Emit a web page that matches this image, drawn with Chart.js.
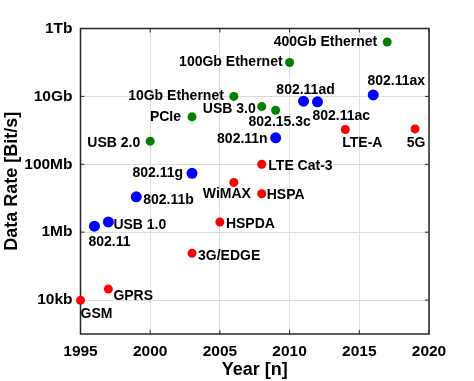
<!DOCTYPE html>
<html>
<head>
<meta charset="utf-8">
<script src="https://cdn.jsdelivr.net/npm/chart.js@4.4.1/dist/chart.umd.min.js"></script>
<style>
  html, body { margin: 0; padding: 0; background: #ffffff; }
  #wrap { width: 474px; height: 381px; }
</style>
</head>
<body>
<div id="wrap"><canvas id="c" width="474" height="381"></canvas></div>
<script>
// ---- data ----
const wiredYears  = [2000, 2003, 2006, 2008, 2009, 2010, 2017];
const wiredRates  = [4.8e8, 2.5e9, 1e10, 5e9, 3.9e9, 1e11, 4e11];
const wiredNames  = ['USB 2.0', 'PCIe', '10Gb Ethernet', 'USB 3.0', '802.15.3c', '100Gb Ethernet', '400Gb Ethernet'];

const wlanYears   = [1996, 1997, 1999, 2003, 2009, 2011, 2012, 2016];
const wlanRates   = [1.5e6, 2e6, 1.1e7, 5.4e7, 6e8, 7.2e9, 6.9e9, 1.1e10];
const wlanNames   = ['802.11', 'USB 1.0', '802.11b', '802.11g', '802.11n', '802.11ad', '802.11ac', '802.11ax'];

const cellYears   = [1995, 1997, 2003, 2005, 2006, 2008, 2008, 2014, 2019];
const cellRates   = [9.8e3, 2.1e4, 2.4e5, 2e6, 2.9e7, 1.35e7, 1e8, 1.06e9, 1.1e9];
const cellNames   = ['GSM', 'GPRS', '3G/EDGE', 'HSPDA', 'WiMAX', 'HSPA', 'LTE Cat-3', 'LTE-A', '5G'];

const yTickValues = [1e4, 1e6, 1e8, 1e10, 1e12];
const yTickLabels = ['10kb', '1Mb', '100Mb', '10Gb', '1Tb'];
const xTickValues = [1995, 2000, 2005, 2010, 2015, 2020];

// ---- label placement (style, not data): [align, dx, dy] ----
const wiredLabelPos = [['right',-10,2],['right',-11,0],['right',-10,0],['right',-6,3],['center',4,12],['right',-7,0],['right',-10,0]];
const wlanLabelPos  = [['center',15,16],['left',5,3],['left',7,3],['right',-9,0],['right',-8,1],['center',2,-11],['left',-5,14],['center',23,-14]];
const cellLabelPos  = [['left',0,14],['left',5,7],['left',6,3],['left',6,2],['center',-7,12],['left',5,1],['left',6.6,2],['center',17,14],['center',1,14]];

const FONT = "'Liberation Sans', Arial, Helvetica, sans-serif";

function pts(xs, ys) { return xs.map((x, i) => ({ x: x, y: ys[i] })); }

const labelPlugin = {
  id: 'pointLabels',
  afterDatasetsDraw(chart) {
    const ctx = chart.ctx;
    ctx.save();
    ctx.font = 'bold 14px ' + FONT;
    ctx.fillStyle = '#000000';
    ctx.textBaseline = 'middle';
    chart.data.datasets.forEach((ds, di) => {
      const meta = chart.getDatasetMeta(di);
      meta.data.forEach((el, i) => {
        const p = ds.labelPos[i];
        ctx.textAlign = p[0];
        ctx.fillText(ds.names[i], el.x + p[1], el.y + p[2]);
      });
    });
    ctx.restore();
  }
};

const boxPlugin = {
  id: 'box',
  beforeDatasetsDraw(chart) {
    const ctx = chart.ctx;
    const a = chart.chartArea;
    const xs = chart.scales.x, ys = chart.scales.y;
    ctx.save();
    ctx.strokeStyle = '#262626';
    ctx.lineWidth = 1.5;
    ctx.strokeRect(a.left, a.top, a.right - a.left, a.bottom - a.top);
    ctx.lineWidth = 1;
    ctx.beginPath();
    xTickValues.forEach(v => {
      const px = xs.getPixelForValue(v);
      ctx.moveTo(px, a.bottom); ctx.lineTo(px, a.bottom - 4);
      ctx.moveTo(px, a.top); ctx.lineTo(px, a.top + 4);
    });
    yTickValues.forEach(v => {
      const py = ys.getPixelForValue(v);
      ctx.moveTo(a.left, py); ctx.lineTo(a.left + 4, py);
      ctx.moveTo(a.right, py); ctx.lineTo(a.right - 4, py);
    });
    ctx.stroke();
    ctx.restore();
  }
};

new Chart(document.getElementById('c'), {
  type: 'scatter',
  data: {
    datasets: [
      { data: pts(wiredYears, wiredRates), names: wiredNames, labelPos: wiredLabelPos,
        backgroundColor: '#008000', borderColor: '#008000', pointRadius: 4.5, borderWidth: 0, clip: false },
      { data: pts(wlanYears, wlanRates), names: wlanNames, labelPos: wlanLabelPos,
        backgroundColor: '#0000ff', borderColor: '#0000ff', pointRadius: 5.5, borderWidth: 0, clip: false },
      { data: pts(cellYears, cellRates), names: cellNames, labelPos: cellLabelPos,
        backgroundColor: '#ff0000', borderColor: '#ff0000', pointRadius: 4.5, borderWidth: 0, clip: false }
    ]
  },
  options: {
    responsive: false,
    animation: false,
    events: [],
    layout: { padding: { left: 0, top: 28.5, right: 45, bottom: 0 } },
    plugins: { legend: { display: false }, tooltip: { enabled: false } },
    scales: {
      x: {
        type: 'linear', min: 1995, max: 2020,
        afterFit(s) { s.height = 47; },
        afterBuildTicks(s) { s.ticks = xTickValues.map(v => ({ value: v })); },
        grid: { color: '#dcdcdc', lineWidth: 1, drawTicks: false },
        border: { display: false },
        ticks: { padding: 8, color: '#000000', font: { family: FONT, size: 15.5, weight: 'bold' },
                 callback: v => String(v), maxRotation: 0, autoSkip: false },
        title: { display: true, text: 'Year [n]', color: '#000000', padding: 0,
                 font: { family: FONT, size: 18, weight: 'bold' } }
      },
      y: {
        type: 'logarithmic', min: 1e3, max: 1e12,
        afterFit(s) { s.width = 80.5; },
        afterBuildTicks(s) { s.ticks = yTickValues.map(v => ({ value: v })); },
        grid: { color: '#dcdcdc', lineWidth: 1, drawTicks: false },
        border: { display: false },
        ticks: { padding: 8, color: '#000000', font: { family: FONT, size: 15.5, weight: 'bold' },
                 autoSkip: false,
                 callback: function(v) { const i = yTickValues.indexOf(v); return i >= 0 ? yTickLabels[i] : ''; } },
        title: { display: true, text: 'Data Rate [Bit/s]', color: '#000000', padding: { top: 1, bottom: 0 },
                 font: { family: FONT, size: 18, weight: 'bold' } }
      }
    }
  },
  plugins: [boxPlugin, labelPlugin]
});
</script>
</body>
</html>
